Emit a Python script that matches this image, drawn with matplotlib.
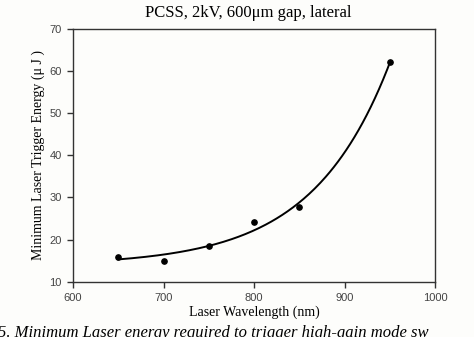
import numpy as np
import matplotlib
matplotlib.use('Agg')
import matplotlib.pyplot as plt

# measured points
wavelength = [650, 700, 750, 800, 850, 950]
energy = [15.9, 15.0, 18.5, 24.1, 27.7, 62.1]

XTICKS = [600, 700, 800, 900, 1000]
YTICKS = [10, 20, 30, 40, 50, 60, 70]

SERIF = ['Liberation Serif', 'DejaVu Serif']
SANS = ['Liberation Sans', 'DejaVu Sans']

# exponential fit y = y0 + a*exp(b*(x - x0)), least squares over b
x = np.array(wavelength, float)
y = np.array(energy, float)
x0 = x.min()
best = None
for b in np.linspace(0.001, 0.05, 2000):
    A = np.column_stack([np.ones_like(x), np.exp(b * (x - x0))])
    coef, res, _, _ = np.linalg.lstsq(A, y, rcond=None)
    err = np.sum((A @ coef - y) ** 2)
    if best is None or err < best[0]:
        best = (err, b, coef)
_, b, (y0, a) = best
xf = np.linspace(x.min(), x.max(), 200)
yf = y0 + a * np.exp(b * (xf - x0))

fig = plt.figure(figsize=(4.74, 3.37), dpi=100)
fig.patch.set_facecolor('#fdfdfb')
ax = fig.add_axes([0.154, 0.164, 0.764, 0.750])
ax.set_facecolor('#fdfdfb')

ax.plot(xf, yf, color='black', lw=1.4)
ax.plot(wavelength, energy, 'o', color='black', ms=3.8)

ax.set_xlim(600, 1000)
ax.set_ylim(10, 70)
ax.set_xticks(XTICKS)
ax.set_yticks(YTICKS)
for s in ax.spines.values():
    s.set_color('#333333')
    s.set_linewidth(1.0)
ax.tick_params(direction='out', length=4, width=1.0, color='#333333',
               labelsize=8, labelcolor='#444444', pad=4)
for lab in ax.get_xticklabels() + ax.get_yticklabels():
    lab.set_family(SANS)

ax.set_xlabel('Laser Wavelength (nm)', family=SERIF, fontsize=10, labelpad=2)
ax.set_ylabel('Minimum Laser Trigger Energy (\u03bc J )', family=SERIF,
              fontsize=10, labelpad=3)
fig.text(0.524, 0.962, 'PCSS, 2kV, 600\u03bcm gap, lateral', family=SERIF,
         fontsize=12, ha='center', va='center')

# figure caption, cut off by the lower edge as in the source image
fig.text(-0.005, 0.036, '5. Minimum Laser energy required to trigger high-gain mode sw',
         family=SERIF, style='italic', fontsize=12, ha='left', va='top')

fig.savefig('out.png', dpi=100, facecolor=fig.get_facecolor())
